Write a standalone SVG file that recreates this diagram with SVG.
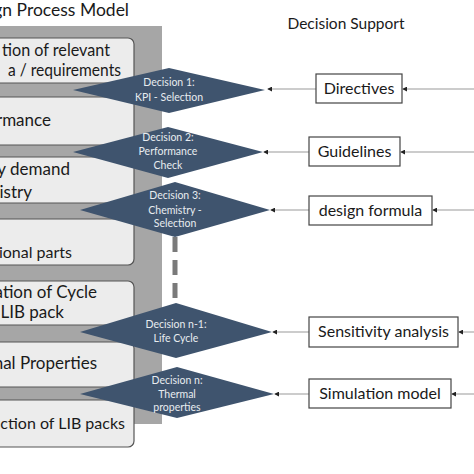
<svg xmlns="http://www.w3.org/2000/svg" width="474" height="474" viewBox="0 0 474 474">
<defs>
<style>
.t{font-family:Lato,"Open Sans","Liberation Sans",sans-serif;fill:#1a1a1a}
.pb{fill:#ececec;stroke:#555;stroke-width:1.2}
.pt{font-size:17px;text-anchor:end}
.dm{fill:#3f546e}
.dt{font-family:Lato,"Open Sans","Liberation Sans",sans-serif;font-size:10.5px;fill:#e8ecf0;text-anchor:middle}
.sb{fill:#fff;stroke:#444;stroke-width:1.2}
.st{font-size:16px;text-anchor:middle}
.ln{stroke:#999;stroke-width:1;fill:none;marker-end:url(#ah)}
</style>
<marker id="ah" viewBox="0 0 6 6" refX="5" refY="3" markerWidth="5" markerHeight="5" orient="auto" markerUnits="userSpaceOnUse">
<path d="M0,0 L6,3 L0,6 z" fill="#222"/>
</marker>
</defs>
<rect width="474" height="474" fill="#fff"/>
<text class="t" x="129" y="16" font-size="17.5" text-anchor="end">ign Process Model</text>
<text class="t" x="346" y="29" font-size="15.5" text-anchor="middle">Decision Support</text>

<g id="process-panel">
<rect x="-10" y="26" width="172" height="398" fill="#a6a6a6"/>
</g>
<g id="step1"><rect class="pb" x="-20" y="38" width="154" height="45" rx="6"/><text class="t" font-size="17" x="2" y="56" textLength="108" lengthAdjust="spacingAndGlyphs">tion of relevant</text><text class="t" font-size="17" x="8" y="76" textLength="113" lengthAdjust="spacingAndGlyphs">a / requirements</text></g>
<g id="step2"><rect class="pb" x="-20" y="97" width="154" height="48" rx="6"/><text class="t pt" x="51" y="126">rmance</text></g>
<g id="step3"><rect class="pb" x="-20" y="157" width="154" height="46" rx="6"/><text class="t pt" x="70" y="175">y demand</text><text class="t pt" x="32" y="198">istry</text></g>
<g id="step4"><rect class="pb" x="-20" y="219" width="154" height="46" rx="6"/><text class="t pt" font-size="16" style="font-size:16px" x="72" y="258">ional parts</text></g>
<g id="step5"><rect class="pb" x="-20" y="281" width="154" height="44" rx="6"/><text class="t pt" x="97" y="298">ation of Cycle</text><text class="t pt" x="64" y="318">f LIB pack</text></g>
<g id="step6"><rect class="pb" x="-20" y="342" width="154" height="45" rx="6"/><text class="t pt" x="97" y="369">nal Properties</text></g>
<g id="step7"><rect class="pb" x="-20" y="400" width="154" height="47" rx="6"/><text class="t pt" style="font-size:16px" x="125" y="429">ction of LIB packs</text></g>

<g id="connectors">
<line x1="175" y1="237" x2="175" y2="300" stroke="#7a7a7a" stroke-width="5" stroke-dasharray="15,8"/>
<line class="ln" x1="316" y1="89" x2="268" y2="89"/>
<line class="ln" x1="474" y1="89" x2="403" y2="89"/>
<line class="ln" x1="309" y1="152" x2="264" y2="152"/>
<line class="ln" x1="474" y1="152" x2="401" y2="152"/>
<line class="ln" x1="309" y1="210" x2="271" y2="210"/>
<line class="ln" x1="474" y1="210" x2="433" y2="210"/>
<line class="ln" x1="309" y1="332" x2="273" y2="332"/>
<line class="ln" x1="474" y1="332" x2="459" y2="332"/>
<line class="ln" x1="309" y1="394" x2="275" y2="394"/>
<line class="ln" x1="474" y1="394" x2="452" y2="394"/>
</g>

<g id="decision1"><polygon class="dm" points="73,90 169,68 265,90 169,113"/><text class="dt" x="169" y="86">Decision 1:</text><text class="dt" x="169" y="101">KPI - Selection</text></g>
<g id="decision2"><polygon class="dm" points="73,152 168,127 263,152 168,178"/><text class="dt" x="168" y="141">Decision 2:</text><text class="dt" x="168" y="155">Performance</text><text class="dt" x="168" y="169">Check</text></g>
<g id="decision3"><polygon class="dm" points="80,210 175,182 270,210 175,237"/><text class="dt" x="175" y="199">Decision 3:</text><text class="dt" x="175" y="214">Chemistry -</text><text class="dt" x="175" y="227">Selection</text></g>
<g id="decision-n1"><polygon class="dm" points="80,332 176,303 272,332 176,358"/><text class="dt" x="176" y="328">Decision n-1:</text><text class="dt" x="176" y="342">Life Cycle</text></g>
<g id="decision-n"><polygon class="dm" points="80,394 177,367 274,394 177,418"/><text class="dt" x="177" y="384">Decision n:</text><text class="dt" x="177" y="398">Thermal</text><text class="dt" x="177" y="411">properties</text></g>

<g id="directives"><rect class="sb" x="316" y="74" width="86" height="29"/><text class="t st" x="359" y="94">Directives</text></g>
<g id="guidelines"><rect class="sb" x="309" y="137" width="91" height="29"/><text class="t st" x="354.5" y="157">Guidelines</text></g>
<g id="design-formula"><rect class="sb" x="309" y="196" width="123" height="29"/><text class="t st" x="370.5" y="216">design formula</text></g>
<g id="sensitivity"><rect class="sb" x="309" y="317" width="149" height="30"/><text class="t st" x="383.5" y="337">Sensitivity analysis</text></g>
<g id="simulation"><rect class="sb" x="309" y="379" width="142" height="29"/><text class="t st" x="380" y="399">Simulation model</text></g>
</svg>
